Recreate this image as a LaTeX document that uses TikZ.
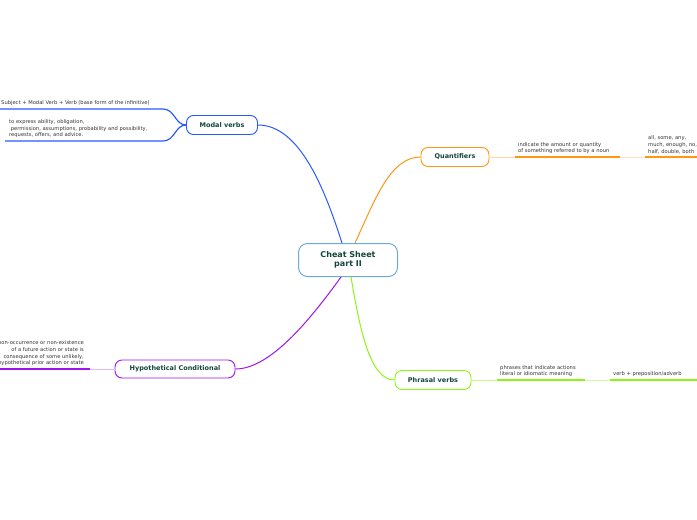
\documentclass[tikz,border=0pt]{standalone}
\usepackage{fontspec}
\setmainfont{DejaVu Sans}
\usepackage{tikz}
\usetikzlibrary{positioning}
\definecolor{modalc}{RGB}{40,90,250}
\definecolor{quantc}{RGB}{255,150,20}
\definecolor{phrasc}{RGB}{140,245,20}
\definecolor{hypoc}{RGB}{160,20,240}
\definecolor{rootc}{RGB}{110,170,215}
\definecolor{topicc}{RGB}{20,70,60}
\begin{document}
\begin{tikzpicture}[
    x=1pt, y=-1pt,
    root/.style={rectangle, draw=rootc, line width=1pt, rounded corners=9pt, fill=white, text=topicc, font=\bfseries\fontsize{8}{9}\selectfont, align=center, minimum width=99pt, minimum height=33pt},
    topic/.style={rectangle, draw, line width=0.9pt, rounded corners=7pt, fill=white, text=topicc, font=\bfseries\fontsize{6.5}{8}\selectfont, minimum height=19pt, inner xsep=8pt},
    leaf/.style={font=\fontsize{5.2}{6.6}\selectfont, text=black!80, inner sep=1pt, align=left},
    branch/.style={line width=1pt},
    under/.style={line width=1.2pt}
]
\useasboundingbox (0,0) rectangle (697,520);

% Central topic
\node[root] (root) at (348,260) {Cheat Sheet\\part II};

% Main topics
\node[topic, draw=modalc, minimum width=71pt] (modal) at (222,125) {Modal verbs};
\node[topic, draw=quantc, minimum width=68pt] (quant) at (455,157) {Quantifiers};
\node[topic, draw=phrasc, minimum width=76pt] (phras) at (433,380) {Phrasal verbs};
\node[topic, draw=hypoc, minimum width=120pt, minimum height=18pt] (hypo) at (175,369) {Hypothetical Conditional};

% Branches from the centre
\draw[branch, modalc] (root.north) ++(-6,0) coordinate (r1) (r1) .. controls (325,190) and (300,125) .. (modal.east);
\draw[branch, quantc] (root.north) ++(7,0) coordinate (r2) (r2) .. controls (375,200) and (390,157) .. (quant.west);
\draw[branch, phrasc] (root.south) ++(3,0) coordinate (r3) (r3) .. controls (360,330) and (370,380) .. (phras.west);
\draw[branch, hypoc] (root.south) ++(-7,0) coordinate (r4) (r4) .. controls (310,320) and (270,369) .. (hypo.east);

% Modal verbs leaves
\coordinate (m1a) at (163,109);
\coordinate (m1b) at (0,109);
\coordinate (m2a) at (163,141);
\coordinate (m2b) at (5,141);
\draw[under, modalc] (m1b) -- (m1a) .. controls (175,109) and (175,125) .. (modal.west);
\draw[under, modalc] (m2b) -- (m2a) .. controls (175,141) and (175,125) .. (modal.west);
\node[leaf, anchor=south west] (m1) at (0,107) {Subject + Modal Verb + Verb (base form of the infinitive)};
\node[leaf, anchor=south west] (m2) at (8,139) {to express ability, obligation,\\ \ permission, assumptions, probability and possibility,\\requests, offers, and advice.};

% Quantifiers leaves
\coordinate (q1a) at (515,157);
\coordinate (q1b) at (620,157);
\coordinate (q2a) at (645,157);
\coordinate (q2b) at (700,157);
\draw[line width=1pt, quantc!40] (quant.east) -- (q1a);
\draw[under, quantc] (q1a) -- (q1b);
\draw[line width=1pt, quantc!30] (q1b) -- (q2a);
\draw[under, quantc] (q2a) -- (q2b);
\node[leaf, anchor=south west] (q1) at (517,155) {indicate the amount or quantity\\of something referred to by a noun};
\node[leaf, anchor=south west] (q2) at (647,155) {all, some, any,\\much, enough, no,\\half, double, both};

% Phrasal verbs leaves
\coordinate (p1a) at (497,380);
\coordinate (p1b) at (585,380);
\coordinate (p2a) at (610,380);
\coordinate (p2b) at (700,380);
\draw[line width=1pt, phrasc!50] (phras.east) -- (p1a);
\draw[under, phrasc] (p1a) -- (p1b);
\draw[line width=1pt, phrasc!40] (p1b) -- (p2a);
\draw[under, phrasc] (p2a) -- (p2b);
\node[leaf, anchor=south west] (p1) at (499,378) {phrases that indicate actions\\literal or idiomatic meaning};
\node[leaf, anchor=south west] (p2) at (612,378) {verb + preposition/adverb};

% Hypothetical Conditional leaf
\coordinate (h1a) at (90,369);
\coordinate (h1b) at (-5,369);
\draw[line width=1pt, hypoc!30] (hypo.west) -- (h1a);
\draw[under, hypoc] (h1a) -- (h1b);
\node[leaf, anchor=south east, align=right] (h1) at (85,367) {non-occurrence or non-existence\\of a future action or state is\\consequence of some unlikely,\\hypothetical prior action or state};

\end{tikzpicture}
\end{document}
